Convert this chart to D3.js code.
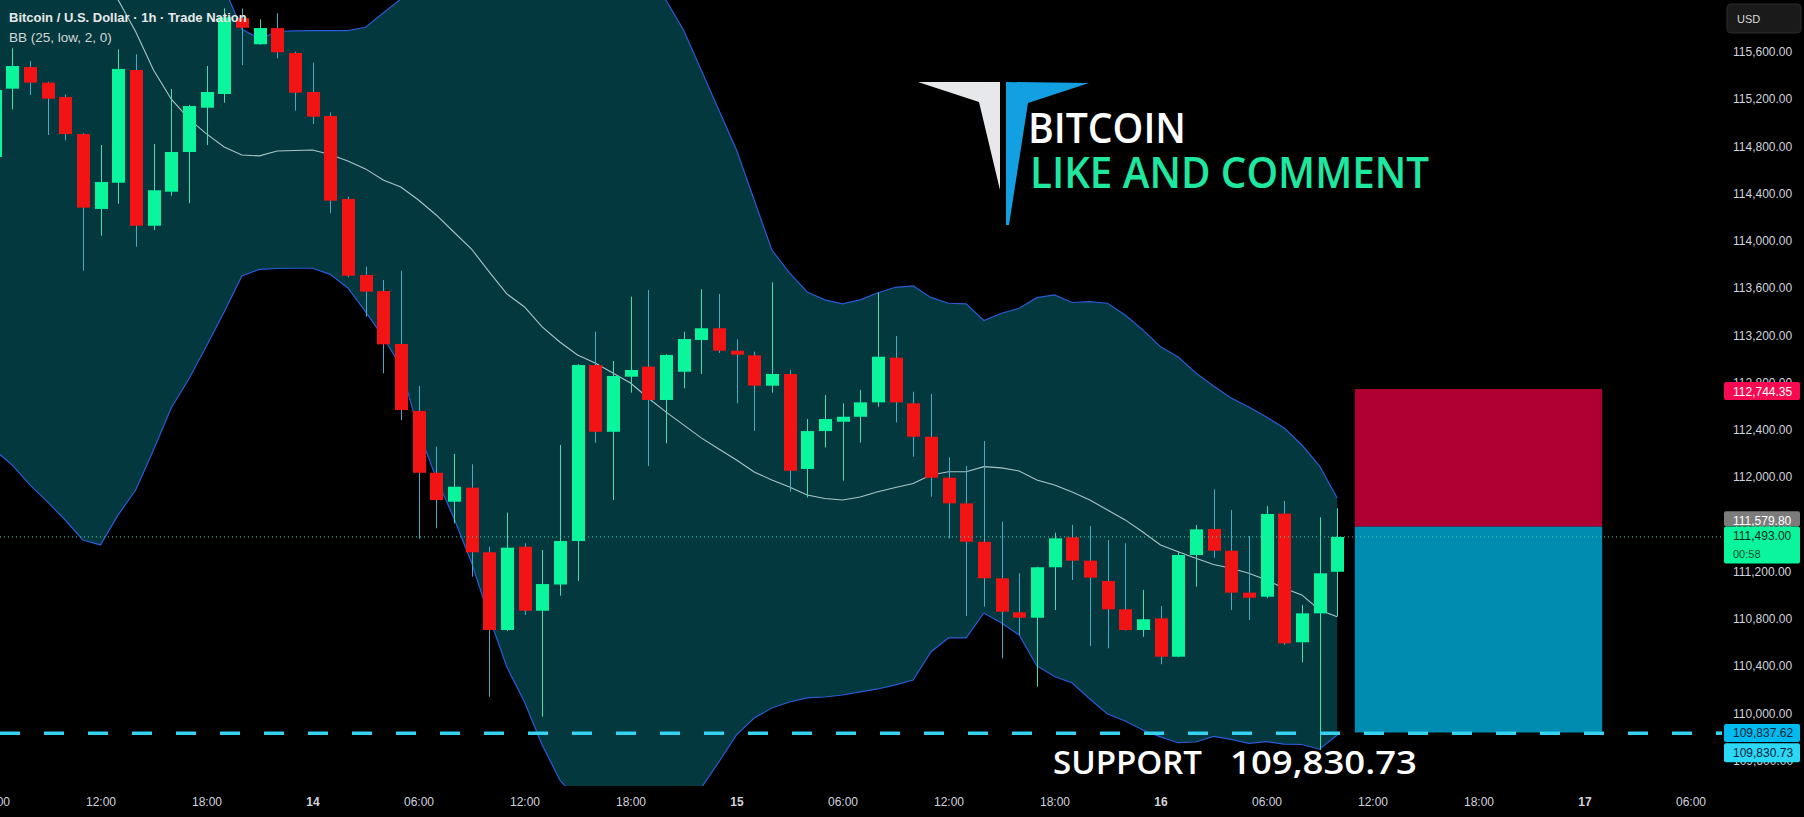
<!DOCTYPE html>
<html>
<head>
<meta charset="utf-8">
<script src="https://cdn.jsdelivr.net/npm/d3@7"></script>
<style>
html, body { margin: 0; padding: 0; background: #000; overflow: hidden; }
svg { display: block; }
text { font-family: "Liberation Sans", Arial, sans-serif; }
</style>
</head>
<body>
<svg id="chart"></svg>
<script>
var width = 1804;
var height = 817;
var paneRight = 1722;
var paneBottom = 786;

// BTCUSD 1h, first bar 13 Sep 06:00 (UTC)
var startTime = Date.UTC(2025, 8, 13, 6);
var hour = 3600 * 1000;

var opens = [114709,115287,115470,115338,115217,114903,114269,114491,115445,114127,
  114415,114751,115126,115242,115883,115663,115800,115589,115259,115056,
  114353,113710,113574,113126,112559,112036,111791,111910,111363,110705,
  111410,110868,111090,111458,112948,112383,112849,112934,112652,112891,
  113160,113259,113069,113030,112773,112872,112068,112389,112468,112510,
  112632,113010,112624,112341,111994,111777,111452,111143,110855,110809,
  111236,111490,111292,111120,110880,110705,110804,110479,111340,111560,
  111376,111021,110987,111690,110601,110846,111198];
var highs = [115350,115629,115521,115345,115239,114910,114810,115620,115578,114819,
  115284,115150,115479,115967,115967,115874,115925,115600,115507,115087,
  114373,113780,113668,113746,112770,112257,112195,112108,111410,111698,
  111439,111382,112271,112955,113230,112982,113526,113583,113040,113230,
  113589,113549,113166,113061,113648,112906,112491,112694,112624,112736,
  113560,113194,112722,112703,112167,112093,112305,111622,111185,111240,
  111529,111594,111585,111467,111439,111044,110908,111368,111594,111896,
  111721,111501,111755,111797,110917,111659,111735];
var lows = [114600,115112,115233,114895,114850,113746,114043,114313,113949,114091,
  114381,114317,114810,115168,115487,115660,115544,115101,114988,114232,
  113690,113357,112878,112480,111475,111566,111608,111156,110140,110695,
  110832,109971,110995,111120,112290,111805,112714,112093,112285,112751,
  112872,113050,112624,112389,112714,111876,111828,112251,111969,112290,
  112595,112463,112172,111833,111481,110823,110902,110465,110663,110225,
  110874,111128,110570,110550,110700,110648,110415,110475,111071,111317,
  110874,110790,110975,110580,110432,109690,110820];
var closes = [115276,115479,115338,115202,114903,114280,114497,115454,114127,114427,
  114751,115140,115259,115891,115803,115800,115595,115253,115050,114339,
  113704,113569,113123,112567,112036,111805,111918,111363,110705,111402,
  110868,111094,111458,112948,112383,112855,112906,112652,113033,113168,
  113259,113069,113035,112773,112872,112053,112389,112491,112510,112632,
  113018,112632,112341,111994,111777,111452,111143,110860,110809,111236,
  111481,111292,111148,110880,110705,110796,110479,111340,111557,111376,
  111021,110978,111687,110592,110846,111185,111493];

// Bollinger Bands (25, low, 2)
var bbUpper = [117392,117435,117477,117477,117435,117392,117308,117223,117096,116969,
  116842,116673,116419,116140,115792,115708,115771,115776,115778,115778,
  115778,115807,115928,116046,116292,116546,116715,116884,117011,117096,
  117138,117138,117096,117011,116884,116715,116504,116275,116038,115784,
  115445,115107,114768,114345,113922,113727,113566,113499,113465,113499,
  113560,113606,113617,113520,113471,113465,113325,113386,113428,113518,
  113541,113477,113484,113471,113372,113245,113103,113016,112881,112771,
  112669,112593,112508,112415,112271,112094,111823];
var bbBasis = [117477,117392,117265,117096,116884,116631,116334,116038,115767,115445,
  115200,115031,114904,114794,114726,114718,114760,114764,114768,114730,
  114675,114608,114514,114455,114345,114218,114074,113930,113736,113550,
  113439,113270,113143,113033,112965,112881,112796,112669,112551,112441,
  112331,112237,112144,112043,111975,111916,111848,111818,111806,111831,
  111876,111911,111945,112017,112045,112045,112088,112077,112051,111975,
  111933,111873,111806,111721,111637,111535,111425,111368,111312,111260,
  111228,111185,111129,111058,111002,110875,110818];
var bbLower = [112229,112102,111933,111789,111636,111467,111425,111679,111892,112229,
  112584,112830,113109,113397,113702,113757,113765,113767,113767,113715,
  113600,113400,113185,112936,112390,111992,111653,111277,110815,110392,
  110096,109732,109436,109266,109182,109140,109114,109114,109165,109250,
  109368,109588,109817,109960,110045,110096,110130,110138,110155,110181,
  110206,110240,110282,110519,110638,110638,110849,110765,110663,110401,
  110312,110257,110121,109994,109935,109859,109800,109751,109757,109804,
  109780,109746,109760,109739,109736,109696,109817];

var priceTicks = d3.range(109600, 115601, 400);
var timeTicks = d3.range(0, 97, 6).map(h => new Date(startTime + h * hour));

var stopLevel = 112744.35;
var entryLevel = 111579.80;
var targetLevel = 109837.62;
var supportLevel = 109830.73;
var lastPrice = 111493.00;
var boxStart = new Date(Date.UTC(2025, 8, 16, 11));
var boxEnd = new Date(Date.UTC(2025, 8, 17, 1));

var bars = opens.map((o, i) => ({
  t: new Date(startTime + i * hour),
  o: o, h: highs[i], l: lows[i], c: closes[i],
  upper: bbUpper[i], basis: bbBasis[i], lower: bbLower[i]
}));

var x = d3.scaleUtc()
  .domain([new Date(startTime), new Date(startTime + 96 * hour)])
  .range([-5.5, 1690.5]);
var y = d3.scaleLinear()
  .domain([110000, 115600])
  .range([713.3, 51.7]);

var svg = d3.select("#chart").attr("width", width).attr("height", height);
svg.append("rect").attr("width", width).attr("height", height).attr("fill", "#000");

svg.append("defs").append("clipPath").attr("id", "pane")
  .append("rect").attr("x", 0).attr("y", 0).attr("width", paneRight).attr("height", paneBottom);

var plot = svg.append("g").attr("clip-path", "url(#pane)");

// band fill + lines
plot.append("path").datum(bars)
  .attr("d", d3.area().x(d => x(d.t)).y0(d => y(d.lower)).y1(d => y(d.upper)))
  .attr("fill", "#03393e");
["upper", "lower"].forEach(k => {
  plot.append("path").datum(bars)
    .attr("d", d3.line().x(d => x(d.t)).y(d => y(d[k])))
    .attr("fill", "none").attr("stroke", "#2a5bd7").attr("stroke-width", 1.2);
});
plot.append("path").datum(bars)
  .attr("d", d3.line().x(d => x(d.t)).y(d => y(d.basis)))
  .attr("fill", "none").attr("stroke", "#a9c4c8").attr("stroke-width", 1.1);

// position boxes
plot.append("rect")
  .attr("x", x(boxStart)).attr("width", x(boxEnd) - x(boxStart))
  .attr("y", y(stopLevel)).attr("height", y(entryLevel) - y(stopLevel))
  .attr("fill", "#b00032");
plot.append("rect")
  .attr("x", x(boxStart)).attr("width", x(boxEnd) - x(boxStart))
  .attr("y", y(entryLevel)).attr("height", y(targetLevel) - y(entryLevel))
  .attr("fill", "#008bb0");

// candles
var upCol = "#0af59c", downCol = "#f21414";
plot.selectAll("line.wick").data(bars).enter().append("line")
  .attr("class", "wick")
  .attr("x1", d => Math.round(x(d.t)) + 0.5).attr("x2", d => Math.round(x(d.t)) + 0.5)
  .attr("y1", d => y(d.h)).attr("y2", d => y(d.l))
  .attr("stroke", d => d.c >= d.o ? "#45dcae" : "#4aaac4").attr("stroke-width", 1);
plot.selectAll("rect.body").data(bars).enter().append("rect")
  .attr("class", "body")
  .attr("x", d => Math.round(x(d.t)) - 6).attr("width", 13)
  .attr("y", d => y(Math.max(d.o, d.c)))
  .attr("height", d => Math.max(1, Math.abs(y(d.o) - y(d.c))))
  .attr("fill", d => d.c >= d.o ? upCol : downCol);

// current price dotted line + support dashed line
plot.append("line").attr("x1", 0).attr("x2", paneRight)
  .attr("y1", y(lastPrice)).attr("y2", y(lastPrice))
  .attr("stroke", "#3fd6ac").attr("stroke-width", 1).attr("stroke-dasharray", "1,3");
plot.append("line").attr("x1", 0).attr("x2", paneRight)
  .attr("y1", y(supportLevel)).attr("y2", y(supportLevel))
  .attr("stroke", "#35d3ef").attr("stroke-width", 3.5).attr("stroke-dasharray", "20,24");

// logo
var logo = svg.append("g");
logo.append("polygon").attr("points", "918,82 1000,82 1000,190 979,102").attr("fill", "#e6e8ea");
logo.append("polygon").attr("points", "1006,82 1089,83 1028,103 1009,225 1006,225").attr("fill", "#12a0e2");
logo.append("text").attr("x", 1028).attr("y", 143)
  .attr("textLength", 158).attr("lengthAdjust", "spacingAndGlyphs")
  .style("font-family", "'Open Sans', sans-serif").style("font-size", "42px").style("font-weight", 600)
  .attr("fill", "#ffffff").text("BITCOIN");
logo.append("text").attr("x", 1030).attr("y", 188)
  .attr("textLength", 399).attr("lengthAdjust", "spacingAndGlyphs")
  .style("font-family", "'Open Sans', sans-serif").style("font-size", "44px").style("font-weight", 600)
  .attr("fill", "#1ee8a0").text("LIKE AND COMMENT");

// support caption
svg.append("text").attr("x", 1053).attr("y", 774)
  .attr("textLength", 149).attr("lengthAdjust", "spacingAndGlyphs")
  .style("font-family", "'Open Sans', sans-serif").style("font-size", "33px").style("font-weight", 600)
  .attr("fill", "#fff").text("SUPPORT");
svg.append("text").attr("x", 1230).attr("y", 774)
  .attr("textLength", 187).attr("lengthAdjust", "spacingAndGlyphs")
  .style("font-family", "'Open Sans', sans-serif").style("font-size", "33px").style("font-weight", 600)
  .attr("fill", "#fff").text("109,830.73");

// header
svg.append("text").attr("x", 9).attr("y", 22)
  .style("font-size", "13px").style("font-weight", "bold")
  .attr("fill", "#e8e8e8").text("Bitcoin / U.S. Dollar · 1h · Trade Nation");
svg.append("text").attr("x", 9).attr("y", 42)
  .style("font-size", "13.5px")
  .attr("fill", "#d6d6d6").text("BB (25, low, 2, 0)");

// price axis
var yAxis = d3.axisRight(y).tickValues(priceTicks)
  .tickFormat(d3.format(",.2f")).tickSize(0).tickPadding(0);
var yg = svg.append("g").attr("transform", "translate(1733,0)").call(yAxis);
yg.select(".domain").remove();
yg.selectAll("text").attr("fill", "#d1d4dc").style("font-size", "12px")
  .style("font-family", "'Liberation Sans', Arial, sans-serif");

// time axis
var fmtH = d3.utcFormat("%H:%M"), fmtD = d3.utcFormat("%-d");
var xAxis = d3.axisBottom(x).tickValues(timeTicks).tickSize(0).tickPadding(11)
  .tickFormat(d => d.getUTCHours() === 0 ? fmtD(d) : fmtH(d));
var xg = svg.append("g").attr("transform", "translate(0," + paneBottom + ")").call(xAxis);
xg.select(".domain").remove();
xg.selectAll("text").attr("fill", "#d1d4dc").style("font-size", "12px")
  .style("font-family", "'Liberation Sans', Arial, sans-serif")
  .style("font-weight", d => d.getUTCHours() === 0 ? "bold" : "normal");

// USD button
svg.append("rect").attr("x", 1727).attr("y", 4).attr("width", 74).attr("height", 29)
  .attr("rx", 4).attr("fill", "#1a1a1a").attr("stroke", "#2c2c2c");
svg.append("text").attr("x", 1737).attr("y", 23).style("font-size", "11px")
  .attr("fill", "#d8d8d8").text("USD");

// price tags on the scale
var fmt = d3.format(",.2f");
function tag(top, h, bg, fg, label) {
  svg.append("rect").attr("x", 1724).attr("y", top).attr("width", 76).attr("height", h)
    .attr("rx", 2).attr("fill", bg);
  svg.append("text").attr("x", 1733).attr("y", top + 13.5).style("font-size", "12px")
    .attr("fill", fg).text(label);
}
tag(y(stopLevel) - 7, 18, "#f70a52", "#ffffff", fmt(stopLevel));
tag(y(entryLevel) - 15.5, 15, "#7c7c7c", "#ffffff", fmt(entryLevel));
tag(y(lastPrice) - 10.5, 37, "#0af59c", "#062a1c", fmt(lastPrice));
svg.append("text").attr("x", 1733).attr("y", y(lastPrice) + 21).style("font-size", "11px")
  .attr("fill", "#0b4a30").text("00:58");
tag(y(targetLevel) - 8.5, 18, "#00baf0", "#0a2236", fmt(targetLevel));
tag(y(supportLevel) + 10, 19, "#2bd8f6", "#0a2236", fmt(supportLevel));
svg.append("rect").attr("x", 1716).attr("y", y(supportLevel) - 1.5).attr("width", 6).attr("height", 3)
  .attr("fill", "#35d3ef");
</script>
</body>
</html>
